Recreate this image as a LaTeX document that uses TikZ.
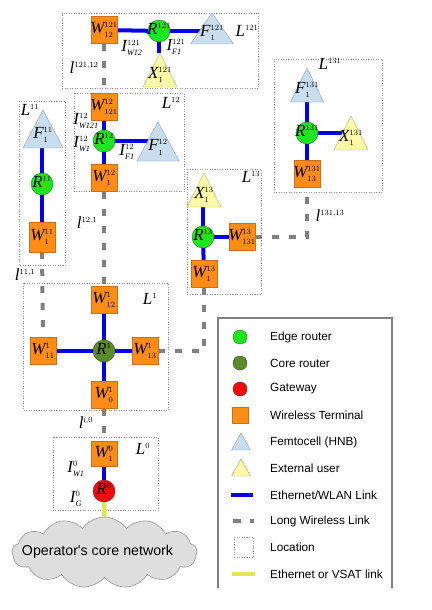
\documentclass[tikz,border=0pt]{standalone}
\usepackage{fontspec}
\setmainfont{Liberation Serif}
\setsansfont{Liberation Sans}
\DeclareMathSizes{17}{17}{8.2}{6}
\usetikzlibrary{shapes.symbols,backgrounds,calc}
\definecolor{wtfill}{RGB}{255,140,20}
\definecolor{wtdraw}{RGB}{205,110,30}
\definecolor{erfill}{RGB}{30,230,30}
\definecolor{erdraw}{RGB}{40,120,40}
\definecolor{crfill}{RGB}{90,140,40}
\definecolor{crdraw}{RGB}{50,80,30}
\definecolor{gwfill}{RGB}{240,10,10}
\definecolor{gwdraw}{RGB}{140,20,20}
\definecolor{ffill}{RGB}{200,222,238}
\definecolor{fdraw}{RGB}{140,160,180}
\definecolor{xfill}{RGB}{255,250,165}
\definecolor{xdraw}{RGB}{170,170,120}
\definecolor{ethblue}{RGB}{0,0,235}
\definecolor{lwgray}{RGB}{128,128,128}
\definecolor{vsatc}{RGB}{228,228,90}
\definecolor{locgray}{RGB}{150,150,150}
\definecolor{cloudfill}{RGB}{222,222,222}
\definecolor{clouddraw}{RGB}{150,150,150}
\definecolor{leggray}{RGB}{128,128,128}
\newcommand\mysym[3]{\makebox[0pt]{$\mathit{#1}^{#2}_{#3}$}}
\newcommand\trinode[7]{%
  \coordinate (#1-apex) at (#3,#4);
  \path[#2] (#3,#4) -- ++(#5,#6) -- ++(-2*#5,0) -- cycle;
  \node[lab] (#1) at (#3,#4+0.65*#6) {#7};
}
\begin{document}
\begin{tikzpicture}[x=1pt,y=-1pt,
  lab/.style={font=\fontsize{17}{19}\selectfont, inner sep=0pt},
  wt/.style={lab, rectangle, fill=wtfill, draw=wtdraw, line width=0.4pt, minimum width=26pt, minimum height=27pt},
  rt/.style={lab, circle, line width=0.4pt, minimum size=22pt},
  er/.style={rt, fill=erfill, draw=erdraw},
  cr/.style={rt, fill=crfill, draw=crdraw},
  gw/.style={rt, fill=gwfill, draw=gwdraw},
  femto/.style={fill=ffill, draw=fdraw, line width=0.4pt},
  ext/.style={fill=xfill, draw=xdraw, line width=0.4pt},
  eth/.style={draw=ethblue, line width=4pt},
  lwl/.style={draw=lwgray, line width=4pt, dash pattern=on 7pt off 10pt},
  vsat/.style={draw=vsatc, line width=4.5pt},
  loc/.style={draw=locgray, dotted, line width=0.5pt},
  leg/.style={font=\sffamily\fontsize{11.8}{13}\selectfont, anchor=west, inner sep=0pt}
]
\useasboundingbox (0,0) rectangle (431,610);

% ---- L121
\node[wt] (W121) at (104,30) {\mysym{W}{121}{12}};
\node[er] (R121) at (159,31) {\mysym{R}{121}{}};
\trinode{F121}{femto}{212}{13}{21.5}{31}{\mysym{F}{121}{1}};
\trinode{X121}{ext}{160}{53}{17}{34}{\mysym{X}{121}{1}};
\node[lab] (IW121) at (132,48) {\mysym{I}{121}{\mathit{W12}}};
\node[lab] (IF121) at (176,47) {\mysym{I}{121}{\mathit{F1}}};
\node[lab] (L121) at (247,33) {\mysym{L}{121}{}};
\node[lab] (l121) at (84,70) {\mysym{l}{121,12}{}};

% ---- L12
\node[wt] (W12a) at (104,107) {\mysym{W}{12}{121}};
\node[er] (R12) at (104,141) {\mysym{R}{12}{}};
\trinode{F12}{femto}{158}{122}{21}{39}{\mysym{F}{12}{1}};
\node[wt] (W12b) at (104,178) {\mysym{W}{12}{1}};
\node[lab] (IW1212) at (86,121) {\mysym{I}{12}{\mathit{W121}}};
\node[lab] (IW12) at (82,144) {\mysym{I}{12}{\mathit{W1}}};
\node[lab] (IF12) at (127,152) {\mysym{I}{12}{\mathit{F1}}};
\node[lab] (L12) at (171,105) {\mysym{L}{12}{}};
\node[lab] (l12) at (87,225) {\mysym{l}{12,1}{}};

% ---- L11
\trinode{F11}{femto}{43}{110}{20}{38}{\mysym{F}{11}{1}};
\node[er] (R11) at (42,184) {\mysym{R}{11}{}};
\node[wt, minimum height=30pt] (W11) at (42,237) {\mysym{W}{11}{1}};
\node[lab] (L11) at (30,112) {\mysym{L}{11}{}};
\node[lab] (l11) at (25,277) {\mysym{l}{11,1}{}};

% ---- L13
\trinode{X13}{ext}{204}{173}{17}{34}{\mysym{X}{13}{1}};
\node[er] (R13) at (203,237) {\mysym{R}{13}{}};
\node[wt] (W13a) at (242,237) {\mysym{W}{13}{131}};
\node[wt] (W13b) at (204,274) {\mysym{W}{13}{1}};
\node[lab] (L13) at (251,179) {\mysym{L}{13}{}};

% ---- L131
\trinode{F131}{femto}{307}{68}{16.5}{34}{\mysym{F}{131}{1}};
\node[er] (R131) at (307,133) {\mysym{R}{131}{}};
\trinode{X131}{ext}{351}{116}{17}{34}{\mysym{X}{131}{1}};
\node[wt] (W131) at (307,174) {\mysym{W}{131}{13}};
\node[lab] (L131) at (330,66) {\mysym{L}{131}{}};
\node[lab] (l131) at (330,218) {\mysym{l}{131,13}{}};

% ---- L1
\node[wt] (W1a) at (104,300) {\mysym{W}{1}{12}};
\node[cr] (R1) at (104,351) {\mysym{R}{1}{}};
\node[wt] (W1b) at (43,351) {\mysym{W}{1}{11}};
\node[wt] (W1c) at (145,351) {\mysym{W}{1}{13}};
\node[wt] (W1d) at (104,395) {\mysym{W}{1}{0}};
\node[lab] (L1) at (150,301) {\mysym{L}{1}{}};
\node[lab] (li0) at (86,425) {\mysym{l}{\mathit{i},0}{}};

% ---- L0
\node[wt, minimum height=25pt] (W0) at (104,454) {\mysym{W}{0}{1}};
\node[gw] (R0) at (104,491) {\mysym{R}{0}{}};
\node[lab] (L0) at (143,451) {\mysym{L}{0}{}};
\node[lab] (IW0) at (76,469) {\mysym{I}{0}{\mathit{W1}}};
\node[lab] (IG0) at (76,499) {\mysym{I}{0}{\mathit{G}}};

% ---- cloud
\node[cloud, cloud puffs=13, cloud puff arc=110, cloud ignores aspect, fill=cloudfill, draw=clouddraw, line width=0.6pt, minimum width=185pt, minimum height=71pt, inner sep=0pt] (core) at (104.5,552.5) {};
\node[font=\sffamily\fontsize{14.2}{16}\selectfont, inner sep=0pt] (coretxt) at (97.5,552) {Operator\textquotesingle s core network};

% ---- background: locations and links
\begin{pgfonlayer}{background}
  \path[loc] (62,13) rectangle (258,88);
  \path[loc] (74,93) rectangle (184,191);
  \path[loc] (19,101) rectangle (65,265);
  \path[loc] (187,169) rectangle (261,294);
  \path[loc] (274,59) rectangle (382,192);
  \path[loc] (23,283) rectangle (168,410);
  \path[loc] (53,437) rectangle (158,510);

  \draw[eth] (W121) -- (R121);
  \draw[eth] (R121.center) -- (R121 -| F121);
  \draw[eth] (R121.center) -- (R121 |- X121-apex);
  \draw[eth] (W12a) -- (R12) -- (W12b);
  \draw[eth] (R12.center) -- (R12 -| F12);
  \draw[eth] (R11.center) -- (R11 |- F11);
  \draw[eth] (R11) -- (W11);
  \draw[eth] (R13.center) -- (R13 |- X13);
  \draw[eth] (R13) -- (W13a);
  \draw[eth] (R13) -- (W13b);
  \draw[eth] (R131.center) -- (R131 |- F131);
  \draw[eth] (R131.center) -- (R131 -| X131);
  \draw[eth] (R131) -- (W131);
  \draw[eth] (R1) -- (W1a);
  \draw[eth] (R1) -- (W1b);
  \draw[eth] (R1) -- (W1c);
  \draw[eth] (R1) -- (W1d);
  \draw[eth] (W0) -- (R0);
  \draw[vsat] (R0) -- (core.north);

  \draw[lwl] (W121.south) -- (W12a.north);
  \draw[lwl] (W12b.south) -- (W1a.north);
  \draw[lwl] (W11.south) -- (W1b.north);
  \draw[lwl] (W1d.south) -- (W0.north);
  \draw[lwl] (W1c.east) -| (W13b.south);
  \draw[lwl] (W13a.east) -| (W131.south);
\end{pgfonlayer}

% ---- legend
\draw[draw=leggray, line width=2pt] (218,588) -- (218,318) -- (392,318) -- (392,588);
\node[er, minimum size=14pt] (lg1) at (240,337) {};
\node[leg] (lt1) at (270,337) {Edge router};
\node[cr, minimum size=14pt] (lg2) at (240,363) {};
\node[leg] (lt2) at (270,363) {Core router};
\node[gw, minimum size=14pt] (lg3) at (240,389) {};
\node[leg] (lt3) at (270,389) {Gateway};
\node[wt, minimum width=16pt, minimum height=16pt] (lg4) at (240,415) {};
\node[leg] (lt4) at (270,415) {Wireless Terminal};
\trinode{lg5}{femto}{241}{433}{9.5}{17}{};
\node[leg] (lt5) at (270,442) {Femtocell (HNB)};
\trinode{lg6}{ext}{241}{459}{9.5}{17}{};
\node[leg] (lt6) at (270,468) {External user};
\coordinate (le7a) at (231,495); \coordinate (le7b) at (253,495);
\draw[eth] (le7a) -- (le7b);
\node[leg] (lt7) at (270,495) {Ethernet/WLAN Link};
\coordinate (le8a) at (233,521); \coordinate (le8b) at (254,521);
\draw[lwl, dash pattern=on 8pt off 9pt] (le8a) -- (le8b);
\node[leg] (lt8) at (270,521) {Long Wireless Link};
\node[loc, minimum width=19pt, minimum height=20pt, inner sep=0pt] (lg9) at (243.5,547) {};
\node[leg] (lt9) at (270,547) {Location};
\coordinate (le10a) at (232,574); \coordinate (le10b) at (255,574);
\draw[vsat] (le10a) -- (le10b);
\node[leg] (lt10) at (270,574) {Ethernet or VSAT link};
\end{tikzpicture}
\end{document}
